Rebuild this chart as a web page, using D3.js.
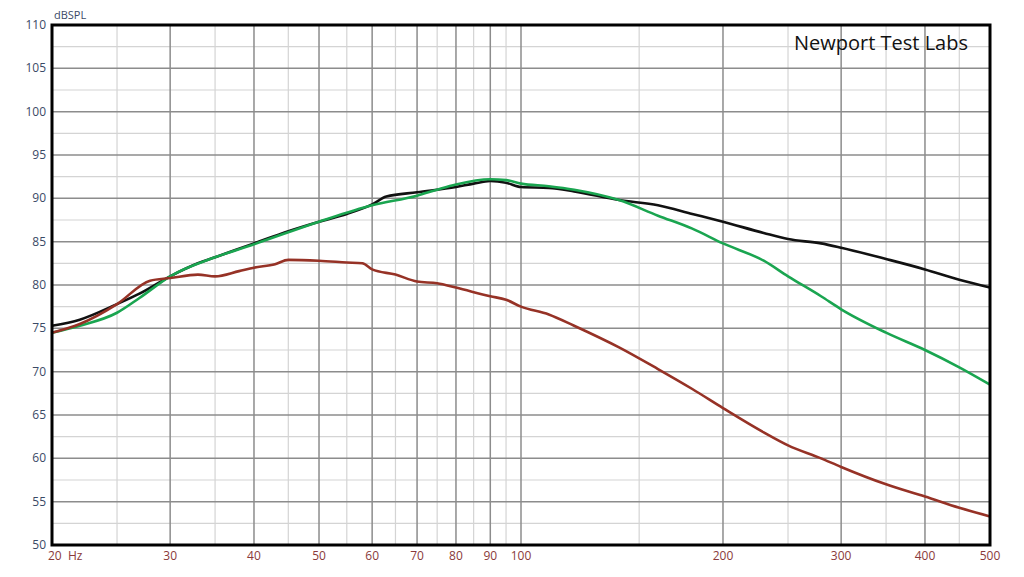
<!DOCTYPE html><html><head><meta charset="utf-8"><script src="https://cdn.jsdelivr.net/npm/d3@7"></script>
<style>body{margin:0;background:#fff}</style></head><body><svg id="c" width="1024" height="577"></svg>
<script>
const blackF=[20,22,25,27,30,33,35,40,45,50,55,60,63,70,80,85,90,95,100,110,120,140,160,180,200,230,250,280,300,350,400,450,500];
const blackV=[75.3,76,77.8,79,81,82.5,83.2,84.8,86.2,87.3,88.2,89.3,90.2,90.7,91.3,91.7,92,91.8,91.3,91.2,90.8,89.8,89.2,88.2,87.3,86,85.3,84.8,84.3,83,81.8,80.6,79.7];
const greenF=[20,22,25,27,30,35,40,50,60,70,75,80,90,95,100,110,120,140,160,180,200,230,250,280,300,350,400,450,500];
const greenV=[74.5,75.3,76.8,78.5,81,83.2,84.7,87.3,89.2,90.3,91,91.6,92.2,92.1,91.7,91.4,91,89.8,88,86.5,84.8,82.8,81,78.7,77.2,74.5,72.5,70.5,68.5];
const redF=[20,22,25,28,30,33,35,38,40,43,45,50,55,58,60,65,70,75,80,90,95,100,110,120,140,160,180,200,230,250,280,300,350,400,450,500];
const redV=[74.5,75.5,77.8,80.5,80.8,81.2,81,81.6,82,82.4,82.9,82.8,82.6,82.5,81.8,81.2,80.4,80.2,79.7,78.7,78.3,77.5,76.6,75.3,72.8,70.3,68,65.8,63,61.5,60,59,57,55.6,54.3,53.3];
const xMajor=[20,30,40,50,60,70,80,90,100,200,300,400,500];
const xMinor=[25,35,45,55,65,75,85,95,150,250,350,450];
const xLabels=["20  Hz","30","40","50","60","70","80","90","100","200","300","400","500"];
const yTicks=[50,55,60,65,70,75,80,85,90,95,100,105,110];
const svg=d3.select("#c");
const L=52,R=990,T=25,B=545;
const x=d3.scaleLog().domain([20,500]).range([L,R]);
const y=d3.scaleLinear().domain([50,110]).range([B,T]);
const g=svg.append("g");
d3.range(52.5,110,5).forEach(v=>g.append("line").attr("x1",L).attr("x2",R).attr("y1",y(v)).attr("y2",y(v)).attr("stroke","#d4d4d4").attr("stroke-width",1.2));
xMinor.forEach(v=>g.append("line").attr("x1",x(v)).attr("x2",x(v)).attr("y1",T).attr("y2",B).attr("stroke","#d4d4d4").attr("stroke-width",1.2));
yTicks.forEach(v=>g.append("line").attr("x1",L).attr("x2",R).attr("y1",y(v)).attr("y2",y(v)).attr("stroke","#8c8c8c").attr("stroke-width",1.5));
xMajor.forEach(v=>g.append("line").attr("x1",x(v)).attr("x2",x(v)).attr("y1",T).attr("y2",B).attr("stroke","#8c8c8c").attr("stroke-width",1.5));
const line=d3.line().x(d=>x(d[0])).y(d=>y(d[1])).curve(d3.curveMonotoneX);
[[blackF,blackV,"#111"],[greenF,greenV,"#1aa550"],[redF,redV,"#963226"]].forEach(([f,v,c])=>{
 svg.append("path").attr("d",line(f.map((q,i)=>[q,v[i]]))).attr("fill","none").attr("stroke",c).attr("stroke-width",2.6);
});
svg.append("rect").attr("x",L).attr("y",T).attr("width",R-L).attr("height",B-T).attr("fill","none").attr("stroke","#000").attr("stroke-width",3);
yTicks.forEach(v=>svg.append("text").attr("x",L-6).attr("y",y(v)+4).attr("text-anchor","end").attr("font-family","Open Sans").attr("font-size",12).attr("fill","#3a4a66").text(v));
xMajor.forEach((v,i)=>svg.append("text").attr("x",i==0?x(v)-4:x(v)).attr("y",560).attr("text-anchor",i==0?"start":"middle").attr("font-family","Open Sans").attr("font-size",12).attr("fill","#8a3a3a").attr("xml:space","preserve").text(xLabels[i]));
svg.append("text").attr("x",54).attr("y",19).attr("font-family","Open Sans").attr("font-size",11).attr("fill","#3a4a66").text("dBSPL");
svg.append("text").attr("x",968).attr("y",50).attr("text-anchor","end").attr("font-family","Open Sans").attr("font-size",20).attr("fill","#111").text("Newport Test Labs");
</script></body></html>
